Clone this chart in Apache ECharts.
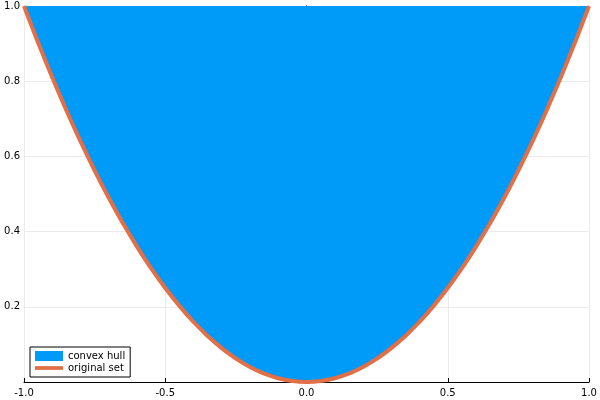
<!DOCTYPE html>
<html><head><meta charset="utf-8">
<script src="https://cdn.jsdelivr.net/npm/echarts@6/dist/echarts.min.js"></script>
<style>html,body{margin:0;padding:0;background:#fff}#c{width:600px;height:400px}</style>
</head><body><div id="c"></div>
<script>
const xs=[-1,-0.95,-0.9,-0.85,-0.8,-0.75,-0.7,-0.65,-0.6,-0.55,-0.5,-0.45,-0.4,-0.35,-0.3,-0.25,-0.2,-0.15,-0.1,-0.05,0,0.05,0.1,0.15,0.2,0.25,0.3,0.35,0.4,0.45,0.5,0.55,0.6,0.65,0.7,0.75,0.8,0.85,0.9,0.95,1];
const curve=[1,0.9025,0.81,0.7225,0.64,0.5625,0.49,0.4225,0.36,0.3025,0.25,0.2025,0.16,0.1225,0.09,0.0625,0.04,0.0225,0.01,0.0025,0,0.0025,0.01,0.0225,0.04,0.0625,0.09,0.1225,0.16,0.2025,0.25,0.3025,0.36,0.4225,0.49,0.5625,0.64,0.7225,0.81,0.9025,1];
const hullCeil=1;
const xTicks=['-1.0','-0.5','0.0','0.5','1.0'];
const ch=echarts.init(document.getElementById('c'));
const lbl={fontSize:10,color:'#000',fontFamily:'DejaVu Sans'};
ch.setOption({
animation:false,
grid:{left:24,right:11,top:6,bottom:18,containLabel:false,outerBoundsMode:'none'},
xAxis:{type:'value',min:-1,max:1,interval:0.5,
 axisLine:{lineStyle:{color:'#000'}},axisTick:{length:-4,lineStyle:{color:'#000'}},
 axisLabel:Object.assign({formatter:v=>xTicks[Math.round((v+1)/0.5)]||'',margin:6},lbl),
 splitLine:{lineStyle:{color:'#ebebeb'}}},
yAxis:{type:'value',min:0,max:1,interval:0.2,
 axisLine:{show:true,lineStyle:{color:'#000'}},axisTick:{show:true,length:-4,lineStyle:{color:'#000'}},
 axisLabel:Object.assign({formatter:v=>v===0?'':v.toFixed(1),margin:4},lbl),
 splitLine:{lineStyle:{color:'#ebebeb'}}},
legend:{left:30,bottom:23,orient:'vertical',itemGap:2,itemWidth:28,itemHeight:10,
 borderColor:'#000',borderWidth:1,padding:[4,5],backgroundColor:'#fff',
 textStyle:{fontSize:10,fontFamily:'DejaVu Sans',color:'#000'},
 data:[{name:'convex hull',icon:'rect',itemStyle:{color:'#009af9'}},
       {name:'original set',icon:'path://M0 0H30V4H0Z',itemStyle:{color:'#e26f46'}}]},
series:[
 {name:'convex hull',type:'custom',data:[0],itemStyle:{color:'#009af9'},
  renderItem:(params,api)=>{
    const pts=xs.map((x,i)=>api.coord([x,curve[i]]));
    pts.push(api.coord([xs[xs.length-1],hullCeil]));
    pts.push(api.coord([xs[0],hullCeil]));
    return {type:'polygon',shape:{points:pts},style:{fill:'#009af9'}};
  }},
 {name:'original set',type:'line',data:xs.map((x,i)=>[x,curve[i]]),smooth:true,showSymbol:false,
  lineStyle:{width:4,color:'#e26f46'},itemStyle:{color:'#e26f46'},z:5}
]});
</script></body></html>
